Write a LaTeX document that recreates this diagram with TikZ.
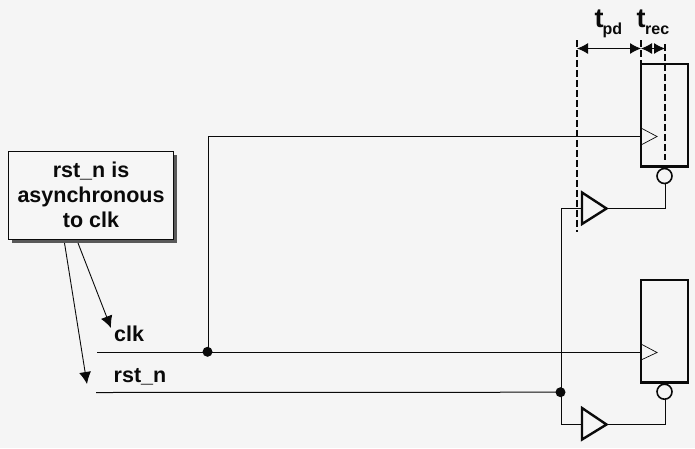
\documentclass[tikz,border=0pt]{standalone}
\usepackage{fontspec}
\setmainfont{Liberation Sans}
\usetikzlibrary{arrows.meta,calc}
\definecolor{bg}{HTML}{F5F5F5}
\definecolor{ink}{HTML}{0A0A0A}
\tikzset{
  x=1pt,y=-1pt,
  wire/.style={draw=ink,line width=1pt},
  heavy/.style={draw=ink,line width=2.4pt,line join=miter},
  thin tri/.style={draw=ink,line width=0.7pt},
  dash line/.style={draw=ink,line width=2.2pt,dash pattern=on 6.5pt off 3.5pt},
  dot/.style={circle,fill=ink,inner sep=0pt,outer sep=0pt,minimum size=10pt},
  bubble/.style={circle,draw=ink,line width=1.6pt,fill=bg,inner sep=0pt,outer sep=0pt,minimum size=15pt},
  ffbox/.style={draw=ink,line width=2.4pt,minimum width=47pt,inner sep=0pt,outer sep=0pt,anchor=north west},
  note/.style={font=\bfseries\fontsize{21.5}{25}\selectfont,text=ink},
  dim/.style={draw=ink,line width=1pt,{Latex[length=11pt,width=11pt]}-{Latex[length=11pt,width=11pt]}},
  pointer/.style={draw=ink,line width=0.9pt,-{Latex[length=12pt,width=12pt]}},
  tmain/.style={font=\bfseries\fontsize{27}{27}\selectfont,text=ink,inner sep=0pt,anchor=base west},
  tsub/.style={font=\bfseries\fontsize{16}{16}\selectfont,text=ink,inner sep=0pt,anchor=base west}
}
\begin{document}
\begin{tikzpicture}
\useasboundingbox[fill=bg] (0,0) rectangle (695,448);
% note box
\fill[black!65] (11.5,154.5) rectangle (177,242.5);
\node[draw=ink,line width=1pt,fill=bg!90!white,minimum width=165pt,minimum height=87.5pt,inner sep=0pt,outer sep=0pt,anchor=north west] (notebox) at (8.5,151.5) {};
\node[note,align=center,inner sep=0pt] (notetext) at (91,195) {rst\_n is\\asynchronous\\to clk};
% flip-flops
\node[ffbox,minimum height=102.5pt] (ffa) at (641,64) {};
\node[ffbox,minimum height=102.5pt] (ffb) at (641,280) {};
\node[bubble] (bubblea) at (664.5,176) {};
\node[bubble] (bubbleb) at (664.5,391.7) {};
% clock triangles
\draw[thin tri,line join=miter] (641,128) -- (657,136.5) -- (641,145);
\draw[thin tri,line join=miter] (641,344) -- (657,352.5) -- (641,360);
% buffers
\draw[heavy,fill=bg] (582,192.5) -- (606.5,208.5) -- (582,224) -- cycle;
\draw[heavy,fill=bg] (582,408) -- (606.5,424.5) -- (582,439.5) -- cycle;
\coordinate (bufain) at (582,208.5);
\coordinate (bufaout) at (606.5,208.5);
\coordinate (bufbin) at (582,424.5);
\coordinate (bufbout) at (606.5,424.5);
% signals
\coordinate (clkstart) at (97,352.5);
\coordinate (rststart) at (96,392.5);
\node[dot] (clkdot) at (207.5,351.8) {};
\node[dot] (rstdot) at (560.5,392.2) {};
\coordinate (clkaend) at (641,136.5);
\coordinate (clkbend) at (641,352.5);
\draw[wire] (clkstart) -- (clkbend);
\draw[wire] (clkdot.center) ++(1,0) |- (clkaend);
\draw[wire] (rststart) -- (rstdot.center);
\draw[wire] (bufain) -- ++(-20.5,0) |- (bufbin);
\draw[wire] (bufaout) -| (665.5,183.5);
\draw[wire] (bufbout) -| (665.5,399.2);
% labels
\node[note,inner sep=0pt,anchor=base west] (clklabel) at (114,341) {clk};
\node[note,inner sep=0pt,anchor=base west] (rstlabel) at (113.5,382) {rst\_n};
% pointers
\coordinate (srca) at (78,243);
\coordinate (srcb) at (64.5,243);
\coordinate (dsta) at (111,328);
\coordinate (dstb) at (87,384);
\draw[pointer] (srca) -- (dsta);
\draw[pointer] (srcb) -- (dstb);
% timing
\coordinate (dashatop) at (577,40);
\coordinate (dashabot) at (577,232);
\coordinate (dashbtop) at (641,40);
\coordinate (dashbbot) at (641,64);
\coordinate (dashctop) at (665,44);
\coordinate (dashcbot) at (665,160);
\draw[dash line] (dashatop) -- (dashabot);
\draw[dash line] (dashbtop) -- (dashbbot);
\draw[dash line] (dashctop) -- (dashcbot);
\coordinate (dima) at (577,48.5);
\coordinate (dimb) at (641,48.5);
\coordinate (dimc) at (665,48.5);
\draw[dim] (dima) -- (dimb);
\draw[dim] (dimb) -- (dimc);
\node[tmain] (tpdt) at (594.5,27.5) {t};
\node[tsub] (tpds) at (602.5,34.5) {pd};
\node[tmain] (trect) at (636.5,27.5) {t};
\node[tsub] (trecs) at (645,34.5) {rec};
\end{tikzpicture}
\end{document}
